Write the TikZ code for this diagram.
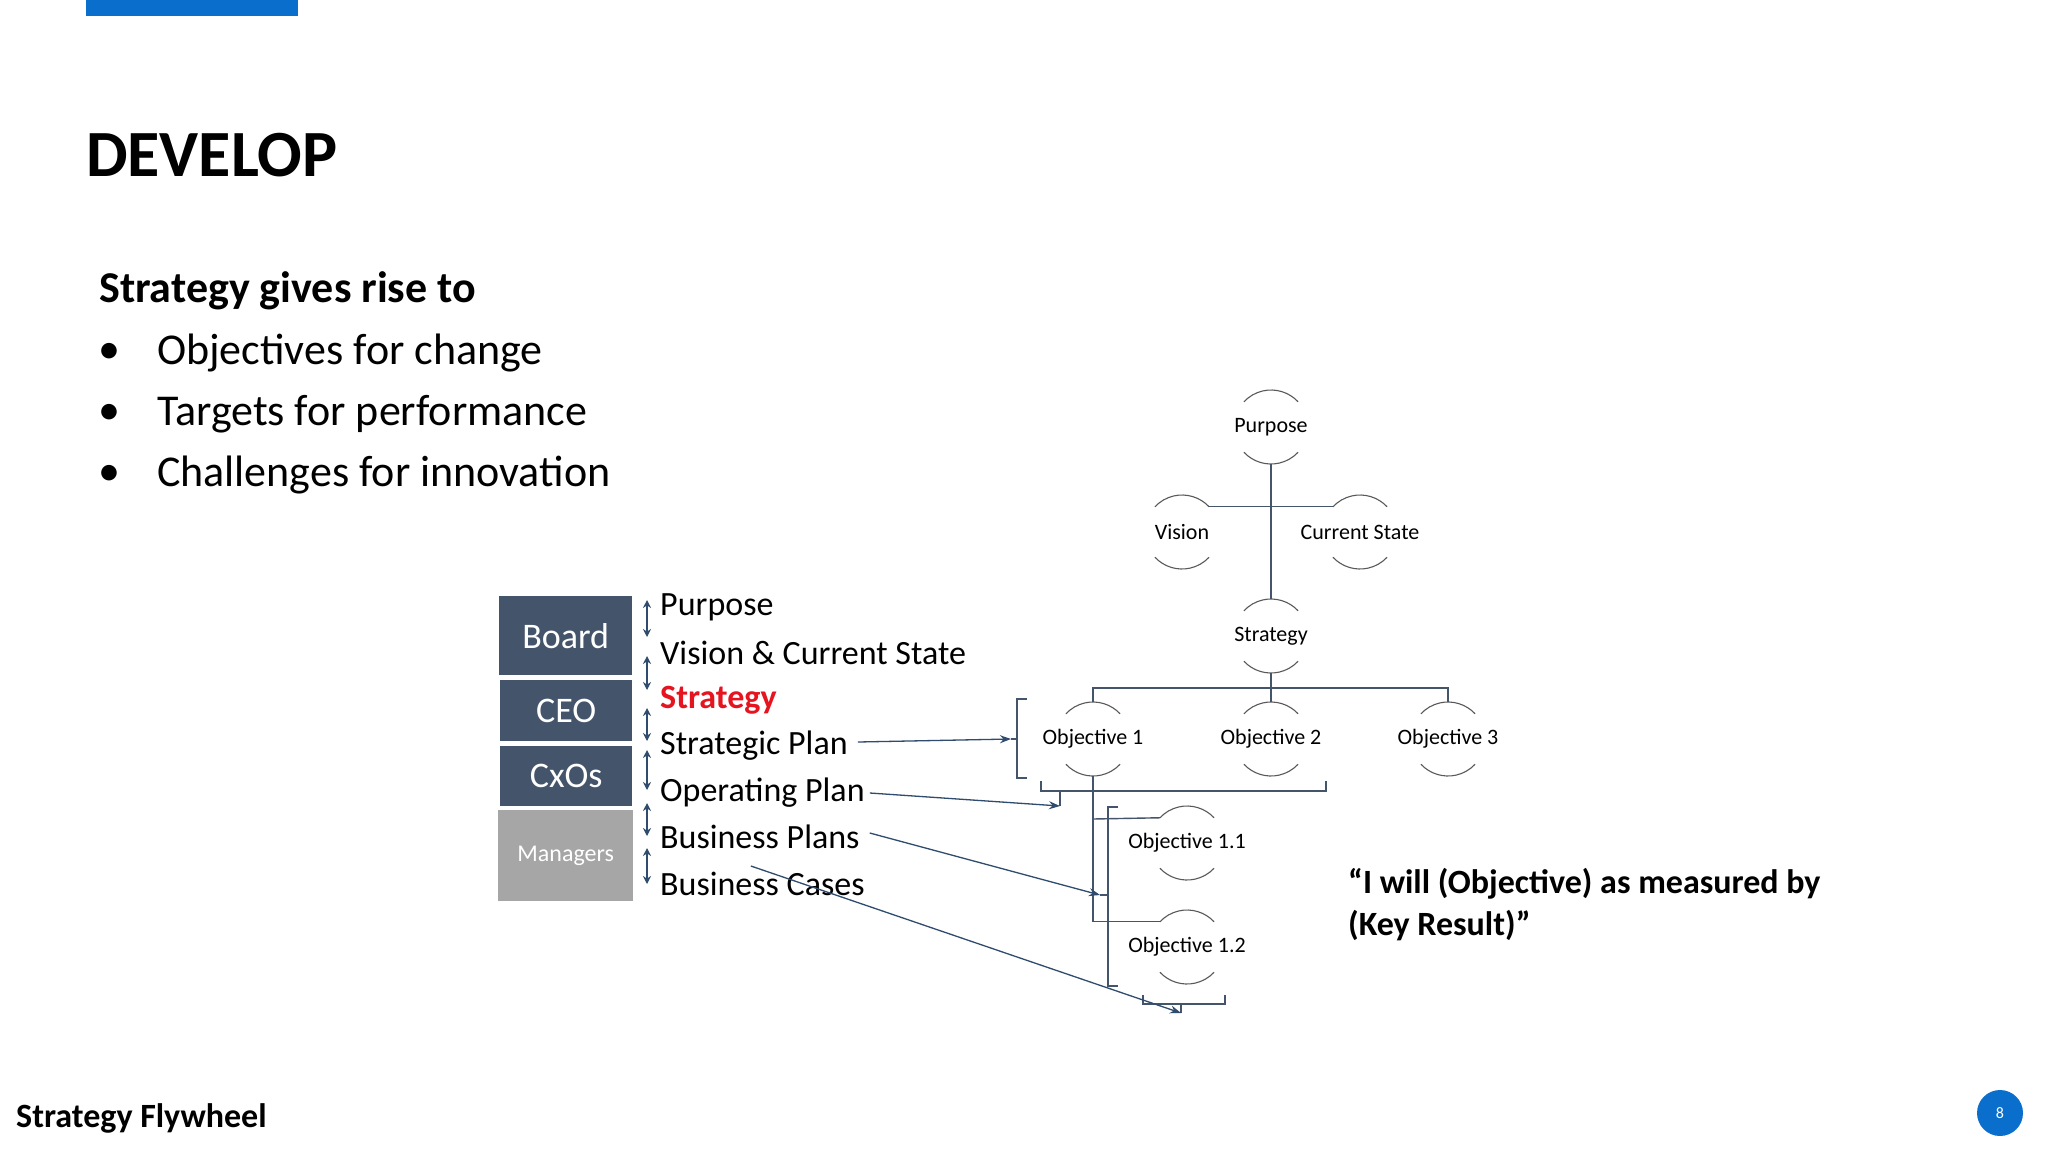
\documentclass[tikz,border=0pt]{standalone}
\usepackage{fontspec}
\setmainfont{Carlito}
\usetikzlibrary{arrows.meta}
\definecolor{slate}{HTML}{44546A}
\definecolor{lnk}{HTML}{2F4B6E}
\definecolor{topblue}{HTML}{0A6ECC}
\definecolor{gr}{HTML}{A6A6A6}
\newcommand\fs[1]{\fontsize{#1}{#1}\selectfont}
\newcommand\ovalarcs[1]{%
  \draw[arcln] ([shift={(43:37pt)}]#1.center) arc[start angle=43,end angle=137,radius=37pt];
  \draw[arcln] ([shift={(-137:37pt)}]#1.center) arc[start angle=-137,end angle=-43,radius=37pt];}
\tikzset{
  arcln/.style={draw=black!65,line width=1.1pt},
  tree/.style={draw=slate,line width=1.4pt},
  brk/.style={draw=slate,line width=1.3pt},
  lnkarrow/.style={draw=lnk,line width=1.3pt,-{Stealth[length=11pt,width=8pt]}},
  dbl/.style={draw=lnk,line width=1.5pt,{Stealth[length=8pt,width=8pt]}-{Stealth[length=8pt,width=8pt]}},
  tn/.style={font=\fs{22}, inner sep=0pt},
  role/.style={fill=slate,text=white,font=\fs{36},anchor=north west,inner sep=0pt},
  lvl/.style={font=\fs{34},anchor=west,inner sep=0pt},
}
\begin{document}
\begin{tikzpicture}[x=1pt,y=-1pt]
\useasboundingbox (0,0) rectangle (2048,1152);
\fill[white] (0,0) rectangle (2048,1152);
\fill[topblue] (86,0) rectangle (298,16);
\node[anchor=west,font=\fs{66}\bfseries,inner sep=0pt] (title) at (86,155) {DEVELOP};
\node[anchor=west,font=\fs{44}\bfseries,inner sep=0pt] (sub) at (99,291) {Strategy gives rise to};
\foreach \t/\y [count=\i] in {Objectives for change/353,Targets for performance/414,Challenges for innovation/475}{
  \node[anchor=center,font=\fs{44},inner sep=0pt] (b\i) at (109,\y) {•};
  \node[anchor=west,font=\fs{44},inner sep=0pt] (bt\i) at (157,\y) {\t};
}
% roles
\node[role,minimum width=133pt,minimum height=79pt] (board) at (499,596) {Board};
\node[role,minimum width=132pt,minimum height=61pt] (ceo) at (500,680) {CEO};
\node[role,minimum width=132pt,minimum height=60pt] (cxo) at (500,746) {CxOs};
\node[role,fill=gr,font=\fs{24},minimum width=135pt,minimum height=91pt] (mgr) at (498,810) {Managers};
% levels
\node[lvl] (lpur) at (660,607) {Purpose};
\node[lvl] (lvis) at (660,653) {Vision \& Current State};
\node[lvl,text={rgb,255:red,230;green,20;blue,30},font=\fs{34}\bfseries] (lstr) at (660,700) {Strategy};
\node[lvl] (lsp) at (660,746) {Strategic Plan};
\node[lvl] (lop) at (660,793) {Operating Plan};
\node[lvl] (lbp) at (660,837) {Business Plans};
\node[lvl] (lbc) at (660,884) {Business Cases};
\foreach \a/\b [count=\i] in {600/637,656/690,708/741,750/790,803/836,848/884}{
  \coordinate (da\i) at (647,\a); \coordinate (db\i) at (647,\b);
  \draw[dbl] (da\i) -- (db\i);
}
% tree
\node[tn] (pur) at (1271,427) {Purpose};
\node[tn] (vis) at (1182,532) {Vision};
\node[tn] (cs) at (1360,532) {Current State};
\node[tn] (str) at (1271,636) {Strategy};
\node[tn] (o1) at (1093,739) {Objective 1};
\node[tn] (o2) at (1271,739) {Objective 2};
\node[tn] (o3) at (1448,739) {Objective 3};
\node[tn] (o11) at (1187,843) {Objective 1.1};
\node[tn] (o12) at (1187,947) {Objective 1.2};
\foreach \n in {pur,vis,cs,str,o1,o2,o3,o11,o12}{\ovalarcs{\n}}
\draw[tree] ([yshift=-37pt]pur.center) -- ([yshift=37pt]str.center);
\draw[tree] ([shift={(43:37pt)}]vis.center) -- ([shift={(137:37pt)}]cs.center);
\draw[tree] ([yshift=-37pt]str.center) -- (1271,688);
\draw[tree] ([yshift=37pt]o1.center) |- (1271,688) -| ([yshift=37pt]o3.center);
\draw[tree] (1271,688) -- ([yshift=37pt]o2.center);
\draw[tree] ([yshift=-37pt]o1.center) |- ([shift={(137:37pt)}]o12.center);
\draw[tree] (o1.center |- 819,819) -- ([shift={(137:37pt)}]o11.center);
% brackets
\draw[brk] (1027,699) -- (1017,699) -- (1017,778) -- (1027,778);
\coordinate (bk1) at (1011,739); \draw[brk] (1017,739) -- (bk1);
\draw[brk] (1041,781) -- (1041,791) -- (1326,791) -- (1326,781);
\coordinate (bk2) at (1060,806); \draw[brk] (1060,791) -- (bk2);
\draw[brk] (1118,807) -- (1108,807) -- (1108,986) -- (1118,986);
\coordinate (bk3) at (1100,895); \draw[brk] (1108,895) -- (bk3);
\draw[brk] (1143,995) -- (1143,1004) -- (1225,1004) -- (1225,995);
\coordinate (bk4) at (1181,1013); \draw[brk] (1181,1004) -- (bk4);
\draw[lnkarrow] ([xshift=10pt,yshift=4pt]lsp.east) -- (bk1);
\draw[lnkarrow] ([xshift=5pt]lop.east) -- (bk2);
\draw[lnkarrow] ([xshift=10pt,yshift=4pt]lbp.east) -- (bk3);
\draw[lnkarrow] ([xshift=-114pt,yshift=18pt]lbc.east) -- (bk4);
% quote
\node[anchor=north west,font=\fs{34}\bfseries,align=left,inner sep=0pt] (quote) at (1348,868) {“I will (Objective) as measured by\\[8pt](Key Result)”};
\node[anchor=west,font=\fs{34}\bfseries,inner sep=0pt] (foot) at (16,1118) {Strategy Flywheel};
\node[circle,fill=topblue,text=white,minimum size=46pt,inner sep=0pt,font=\fs{16}] (pg) at (2000,1113) {8};
\end{tikzpicture}
\end{document}
